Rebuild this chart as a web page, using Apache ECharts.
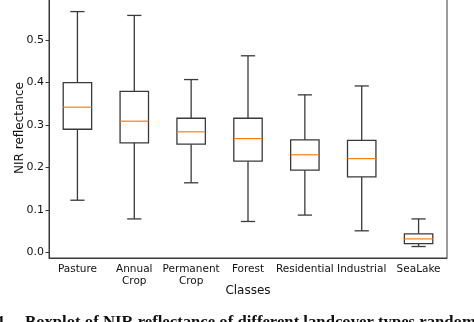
<!DOCTYPE html>
<html>
<head>
<meta charset="utf-8">
<script src="https://cdn.jsdelivr.net/npm/echarts@6/dist/echarts.min.js"></script>
<style>
  html, body { margin: 0; padding: 0; background: #fff; }
  #chart { width: 474px; height: 322px; }
</style>
</head>
<body>
<div id="chart"></div>
<script>
// Land cover classes along the x axis
const classes = ['Pasture', 'Annual\nCrop', 'Permanent\nCrop', 'Forest', 'Residential', 'Industrial', 'SeaLake'];
// Box statistics per class (NIR reflectance)
const whiskerLow  = [0.123, 0.079, 0.164, 0.073, 0.088, 0.051, 0.014];
const quartile1   = [0.290, 0.258, 0.255, 0.215, 0.194, 0.178, 0.021];
const medians     = [0.342, 0.309, 0.284, 0.268, 0.230, 0.221, 0.032];
const quartile3   = [0.400, 0.379, 0.316, 0.316, 0.265, 0.264, 0.044];
const whiskerHigh = [0.567, 0.558, 0.407, 0.463, 0.371, 0.392, 0.079];
// Y tick labels
const yTicks = [0.0, 0.1, 0.2, 0.3, 0.4, 0.5];
// Caption text below the plot
const captionNumber = '1';
const captionText = 'Boxplot of NIR reflectance of different landcover types random';

const boxData = classes.map((c, i) => [i, whiskerLow[i], quartile1[i], medians[i], quartile3[i], whiskerHigh[i]]);

const lineColor = '#3a3a3a';
const medianColor = '#ff7f0e';

function renderBox(params, api) {
  const idx = api.value(0);
  const lo = api.coord([idx, api.value(1)]);
  const q1 = api.coord([idx, api.value(2)]);
  const md = api.coord([idx, api.value(3)]);
  const q3 = api.coord([idx, api.value(4)]);
  const hi = api.coord([idx, api.value(5)]);
  const band = api.size([1, 0])[0];
  const halfBox = band * 0.25;
  const halfCap = band * 0.125;
  const x = lo[0];
  const stroke = { stroke: lineColor, lineWidth: 1.3, fill: null };
  return {
    type: 'group',
    children: [
      { type: 'line', shape: { x1: x, y1: q1[1], x2: x, y2: lo[1] }, style: stroke },
      { type: 'line', shape: { x1: x, y1: q3[1], x2: x, y2: hi[1] }, style: stroke },
      { type: 'line', shape: { x1: x - halfCap, y1: lo[1], x2: x + halfCap, y2: lo[1] }, style: stroke },
      { type: 'line', shape: { x1: x - halfCap, y1: hi[1], x2: x + halfCap, y2: hi[1] }, style: stroke },
      { type: 'rect', shape: { x: x - halfBox, y: q3[1], width: halfBox * 2, height: q1[1] - q3[1] },
        style: { stroke: lineColor, lineWidth: 1.3, fill: '#fff' } },
      { type: 'line', shape: { x1: x - halfBox, y1: md[1], x2: x + halfBox, y2: md[1] },
        style: { stroke: medianColor, lineWidth: 1.2 } }
    ]
  };
}

const chart = echarts.init(document.getElementById('chart'), null, { renderer: 'canvas' });
chart.setOption({
  animation: false,
  backgroundColor: '#fff',
  textStyle: { fontFamily: 'DejaVu Sans' },
  grid: {
    left: 49, right: 27, top: -2, bottom: 64,
    outerBoundsMode: 'none',
    containLabel: false,
    show: true, borderColor: lineColor, borderWidth: 1, backgroundColor: 'transparent'
  },
  xAxis: {
    type: 'category',
    data: classes,
    name: 'Classes',
    nameLocation: 'middle',
    nameGap: 27,
    nameMoveOverlap: false,
    nameTextStyle: { fontSize: 12, color: '#111', fontFamily: 'DejaVu Sans' },
    axisLine: { onZero: false, lineStyle: { color: lineColor } },
    axisTick: { alignWithLabel: true, length: 3.5, lineStyle: { color: lineColor } },
    axisLabel: { fontSize: 10.5, color: '#111', margin: 5, lineHeight: 12, interval: 0 },
    splitLine: { show: false }
  },
  yAxis: {
    type: 'value',
    min: -0.013,
    max: 0.599,
    name: 'NIR reflectance',
    nameLocation: 'middle',
    nameGap: 23,
    nameMoveOverlap: false,
    nameTextStyle: { fontSize: 12, color: '#111', fontFamily: 'DejaVu Sans' },
    axisLine: { show: true, onZero: false, lineStyle: { color: lineColor } },
    axisTick: { show: true, length: 3.5, customValues: yTicks, lineStyle: { color: lineColor } },
    axisLabel: { fontSize: 11, color: '#111', margin: 5, customValues: yTicks,
      formatter: v => Number(v).toFixed(1) },
    splitLine: { show: false }
  },
  series: [{
    type: 'custom',
    renderItem: renderBox,
    encode: { x: 0, y: [1, 2, 3, 4, 5] },
    data: boxData,
    silent: true
  }],
  graphic: [
    { type: 'text', left: -3, top: 314,
      style: { text: captionNumber, font: 'bold 16.7px "Liberation Serif"', fill: '#111' } },
    { type: 'text', left: 25, top: 314,
      style: { text: captionText, font: 'bold 16.7px "Liberation Serif"', fill: '#111' } }
  ]
});
</script>
</body>
</html>
